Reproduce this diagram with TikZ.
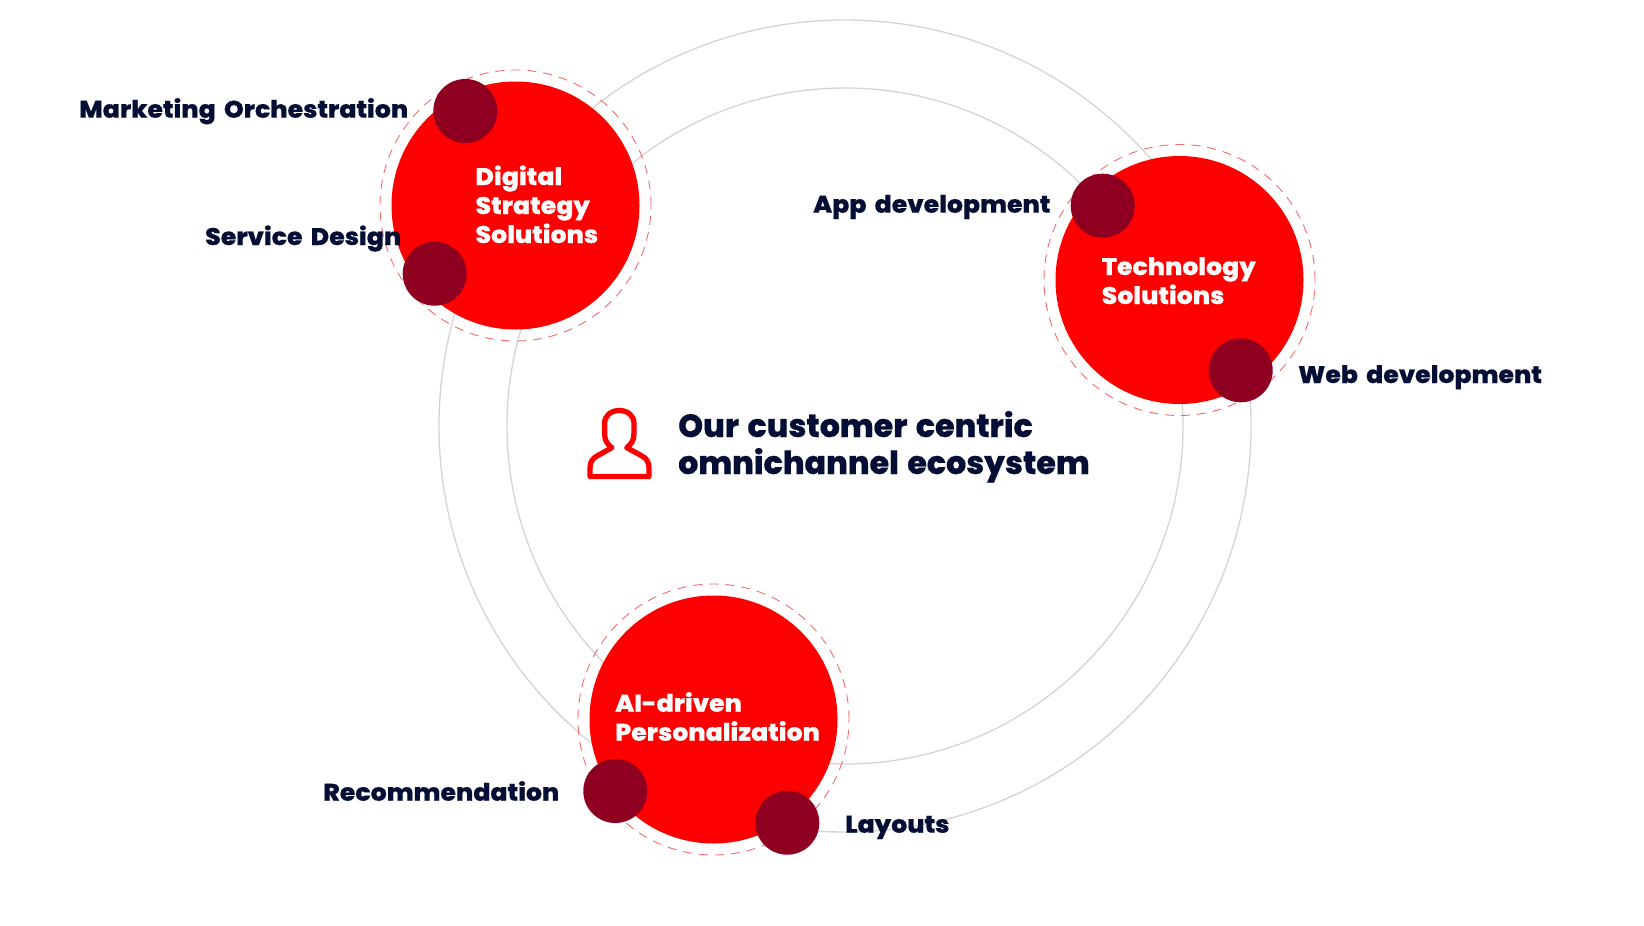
\documentclass[tikz,border=0pt]{standalone}
\usepackage{fontspec}
\newfontfamily\pop{Poppins ExtraBold}[FakeStretch=1.05,WordSpace=1.7,FakeBold=0.35]
\newfontfamily\poptitle{Poppins ExtraBold}[FakeStretch=0.99,WordSpace=1.4,FakeBold=0.35]
\definecolor{navy}{HTML}{050F36}
\definecolor{wine}{HTML}{8F0020}
\definecolor{ringgrey}{HTML}{D4D4D4}
\definecolor{dashred}{HTML}{F76A6A}
\tikzset{
  ring/.style={circle,draw=ringgrey,line width=1.3pt,inner sep=0pt,minimum size=#1*2pt},
  halo/.style={circle,draw=dashred,line width=0.9pt,dash pattern=on 9pt off 7pt,inner sep=0pt,minimum size=271pt},
  hub/.style={circle,fill=red,inner sep=0pt,minimum size=248pt},
  dot/.style={circle,fill=wine,inner sep=0pt,minimum size=64pt},
  lab/.style={anchor=base west,inner sep=0pt,text=navy,font=\pop\fontsize{24}{29}\selectfont},
  hubtext/.style={anchor=base west,inner sep=0pt,text=white,align=left,font=\pop\fontsize{24}{29}\selectfont},
  title/.style={anchor=base west,inner sep=0pt,text=navy,align=left,font=\poptitle\fontsize{32}{37}\selectfont},
}
\begin{document}
\begin{tikzpicture}[x=1pt,y=-1pt]
\useasboundingbox[fill=white] (0,0) rectangle (1644,926);
\node[ring=406] (outerring) at (845,426) {};
\node[ring=338] (innerring) at (845,426) {};
\node[halo] (haloA) at (515.5,205.5) {};
\node[halo] (haloB) at (1179.5,280) {};
\node[halo] (haloC) at (713.5,719.5) {};
\node[hub] (hubA) at (515.5,205.5) {};
\node[hub] (hubB) at (1179.5,280) {};
\node[hub] (hubC) at (713.5,719.5) {};
\node[dot] (dotMO) at (465.3,111) {};
\node[dot] (dotSD) at (434.7,273.7) {};
\node[dot] (dotApp) at (1102.7,205.7) {};
\node[dot] (dotWeb) at (1240.7,370.3) {};
\node[dot] (dotRec) at (615.3,791) {};
\node[dot] (dotLay) at (787.3,822.7) {};
\node[lab] (tMO) at (79,117.7) {Marketing Orchestration};
\node[lab] (tSD) at (205,245) {Service Design};
\node[lab] (tApp) at (813,212.7) {App development};
\node[lab] (tWeb) at (1298,383) {Web development};
\node[lab] (tRec) at (323,800.7) {Recommendation};
\node[lab] (tLay) at (845,832.7) {Layouts};
\node[hubtext] (tA) at (475.3,243) {Digital\\Strategy\\Solutions};
\node[hubtext] (tB) at (1101.5,304) {Technology\\Solutions};
\node[hubtext] (tC) at (615,740.7) {AI-driven\\Personalization};
\node[title] (tTitle) at (678,474) {Our customer centric\\omnichannel ecosystem};
\draw[red,line width=5.3pt,line join=round]
  (590,476.5) -- (590,468) .. controls (590,462) and (592.5,458.5) .. (597,456)
  -- (611.8,447.7) .. controls (606.5,443.5) and (604.6,440) .. (604.6,433)
  -- (604.6,423.5) .. controls (604.6,415.5) and (611,410.5) .. (619.3,410.5)
  .. controls (627.6,410.5) and (634,415.5) .. (634,423.5)
  -- (634,433) .. controls (634,440) and (632,443.5) .. (626.8,447.7)
  -- (642,456) .. controls (646.5,458.5) and (649,462) .. (649,468)
  -- (649,476.5) -- cycle;
\end{tikzpicture}
\end{document}
